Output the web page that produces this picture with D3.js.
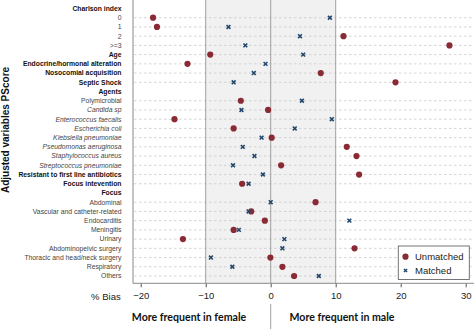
<!DOCTYPE html>
<html>
<head>
<meta charset="utf-8">
<script src="https://cdn.jsdelivr.net/npm/d3@7"></script>
<style>
  html, body { margin: 0; padding: 0; background: #fff; }
  svg { display: block; }
</style>
</head>
<body>
<svg id="chart" width="474" height="329"></svg>
<script>
// Covariates shown on the y axis, top to bottom
const variables = [
  "Charlson index", "0", "1", "2", ">=3", "Age",
  "Endocrine/hormonal alteration", "Nosocomial acquisition", "Septic Shock",
  "Agents", "Polymicrobial", "Candida sp", "Enterococcus faecalis",
  "Escherichia coli", "Klebsiella pneumoniae", "Pseudomonas aeruginosa",
  "Staphylococcus aureus", "Streptococcus pneumoniae",
  "Resistant to first line antibiotics", "Focus intevention", "Focus",
  "Abdominal", "Vascular and catheter-related", "Endocarditis", "Meningitis",
  "Urinary", "Abdominopelvic surgery", "Thoracic and head/neck surgery",
  "Respiratory", "Others"
];

// Standardised % bias before matching (null = section heading)
const unmatched = [
  null, -18.1, -17.5, 11.2, 27.5, -9.3,
  -12.8, 7.7, 19.2,
  null, -4.6, -0.4, -14.8,
  -5.7, 0.15, 11.7,
  13.2, 1.6,
  13.6, -4.4, null,
  6.9, -3.0, -0.9, -5.7,
  -13.5, 12.9, -0.05,
  1.8, 3.6
];

// Standardised % bias after matching
const matched = [
  null, 9.1, -6.5, 4.5, -3.9, 5.0,
  -0.8, -2.6, -5.7,
  null, 4.8, -4.5, 9.4,
  3.7, -1.4, -4.3,
  -2.5, -5.8,
  -1.2, -3.4, null,
  0.0, -3.4, 12.1, -4.9,
  2.1, 1.8, -9.2,
  -5.9, 7.4
];

const xTicks = [-20, -10, 0, 10, 20, 30];
const seriesNames = ["Unmatched", "Matched"];

// ---- layout ----
const svg = d3.select("#chart");
const W = 474, H = 329;
const plotLeft = 133, plotRight = 474, plotTop = 0, plotBottom = 283.3;

const x = d3.scaleLinear().domain([-20, 30]).range([140.7, 465.7]);
const y = d3.scalePoint().domain(variables).range([8.5, 276]);

const red = "#8a2a35";
const blue = "#23486d";

const boldLabels = new Set([
  "Charlson index", "Age", "Endocrine/hormonal alteration",
  "Nosocomial acquisition", "Septic Shock", "Agents",
  "Resistant to first line antibiotics", "Focus intevention", "Focus"
]);
const italicLabels = new Set([
  "Candida sp", "Enterococcus faecalis", "Escherichia coli",
  "Klebsiella pneumoniae", "Pseudomonas aeruginosa",
  "Staphylococcus aureus", "Streptococcus pneumoniae"
]);

// shaded band between -10 and 10
svg.append("rect")
  .attr("x", x(-10)).attr("y", plotTop)
  .attr("width", x(10) - x(-10)).attr("height", plotBottom - plotTop)
  .attr("fill", "#f1f1f1");

// dashed row guides for rows carrying values
const rows = variables.map((v, i) => ({ name: v, u: unmatched[i], m: matched[i] }));
svg.append("g").selectAll("line")
  .data(rows.filter(d => d.u !== null))
  .join("line")
  .attr("x1", plotLeft + 1).attr("x2", plotRight)
  .attr("y1", d => y(d.name)).attr("y2", d => y(d.name))
  .attr("stroke", "#c9c9c9").attr("stroke-width", 0.8)
  .attr("stroke-dasharray", "2.5,2.5");

// reference lines at -10, 0, 10
svg.append("g").selectAll("line")
  .data([-10, 0, 10])
  .join("line")
  .attr("x1", d => x(d)).attr("x2", d => x(d))
  .attr("y1", plotTop).attr("y2", plotBottom)
  .attr("stroke", "#a0a0a0").attr("stroke-width", 1);

// axis frame
svg.append("line")
  .attr("x1", plotLeft).attr("x2", plotLeft)
  .attr("y1", plotTop).attr("y2", plotBottom)
  .attr("stroke", "#8a8a8a").attr("stroke-width", 1);

const xAxis = d3.axisBottom(x).tickValues(xTicks).tickSize(4).tickPadding(5)
  .tickFormat(d3.format("d"));
const gx = svg.append("g").attr("transform", `translate(0,${plotBottom})`).call(xAxis);
gx.select(".domain").remove();
gx.append("line")
  .attr("x1", plotLeft).attr("x2", plotRight)
  .attr("stroke", "#8a8a8a").attr("stroke-width", 1);
gx.selectAll(".tick line").attr("stroke", "#555");
gx.selectAll(".tick text")
  .attr("fill", "#222")
  .style("font-family", "Liberation Sans, Arial, sans-serif")
  .style("font-size", "9.5px");

// y labels
svg.append("g").selectAll("text")
  .data(variables)
  .join("text")
  .attr("x", 121.5).attr("y", d => y(d))
  .attr("dy", "0.35em")
  .attr("text-anchor", "end")
  .style("font-family", "Liberation Sans, Arial, sans-serif")
  .style("font-size", "6.8px")
  .style("font-weight", d => boldLabels.has(d) ? "bold" : "normal")
  .style("font-style", d => italicLabels.has(d) ? "italic" : "normal")
  .attr("fill", d => boldLabels.has(d) ? "#111" : "#444")
  .text(d => d);

// y title
svg.append("text")
  .attr("transform", "translate(9,130) rotate(-90)")
  .attr("text-anchor", "middle")
  .style("font-family", "Liberation Sans, Arial, sans-serif")
  .style("font-size", "10px")
  .style("font-weight", "bold")
  .attr("fill", "#111")
  .text("Adjusted variables PScore");

// x caption
svg.append("text")
  .attr("x", 120.7).attr("y", 300)
  .attr("text-anchor", "end")
  .style("font-family", "Liberation Sans, Arial, sans-serif")
  .style("font-size", "9.5px")
  .attr("fill", "#222")
  .text("% Bias");

// direction notes
const noteFont = "Lato, 'Open Sans', sans-serif";
svg.append("text")
  .attr("x", 189).attr("y", 320.5)
  .attr("text-anchor", "middle")
  .style("font-family", noteFont).style("font-size", "10.6px").style("font-weight", "bold")
  .attr("fill", "#111")
  .text("More frequent in female");
svg.append("text")
  .attr("x", 342).attr("y", 320.5)
  .attr("text-anchor", "middle")
  .style("font-family", noteFont).style("font-size", "10.6px").style("font-weight", "bold")
  .attr("fill", "#111")
  .text("More frequent in male");
svg.append("line")
  .attr("x1", x(0)).attr("x2", x(0))
  .attr("y1", 304).attr("y2", H)
  .attr("stroke", "#a0a0a0").attr("stroke-width", 1);

// markers
const crossPath = s => `M${-s},${-s}L${s},${s}M${-s},${s}L${s},${-s}`;

svg.append("g").selectAll("circle")
  .data(rows.filter(d => d.u !== null))
  .join("circle")
  .attr("cx", d => x(d.u)).attr("cy", d => y(d.name))
  .attr("r", 3.1)
  .attr("fill", red);

svg.append("g").selectAll("path")
  .data(rows.filter(d => d.m !== null))
  .join("path")
  .attr("transform", d => `translate(${x(d.m)},${y(d.name)})`)
  .attr("d", crossPath(1.9))
  .attr("stroke", blue).attr("stroke-width", 1.6)
  .attr("fill", "none");

// legend
const lg = svg.append("g");
lg.append("rect")
  .attr("x", 398.3).attr("y", 246).attr("width", 71).attr("height", 33.5)
  .attr("fill", "#fff").attr("stroke", "#666").attr("stroke-width", 0.9);
lg.append("circle").attr("cx", 405.5).attr("cy", 256.7).attr("r", 3.1).attr("fill", red);
lg.append("path")
  .attr("transform", "translate(405.5,270.5)")
  .attr("d", crossPath(1.6))
  .attr("stroke", blue).attr("stroke-width", 1.4).attr("fill", "none");
lg.selectAll("text.leg")
  .data(seriesNames)
  .join("text")
  .attr("class", "leg")
  .attr("x", 415).attr("y", (d, i) => 256.7 + i * 14)
  .attr("dy", "0.35em")
  .style("font-family", "Liberation Sans, Arial, sans-serif")
  .style("font-size", "9.5px")
  .attr("fill", "#222")
  .text(d => d);
</script>
</body>
</html>
